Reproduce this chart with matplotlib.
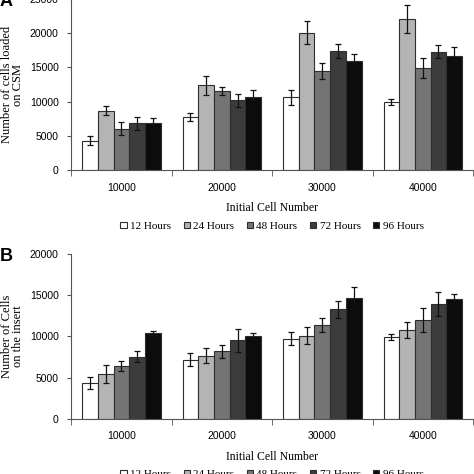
import numpy as np
import matplotlib.pyplot as plt

# data
cell_numbers = ["10000", "20000", "30000", "40000"]
hours = ["12 Hours", "24 Hours", "48 Hours", "72 Hours", "96 Hours"]
colors = ["#ffffff", "#b4b4b4", "#747474", "#3c3c3c", "#0c0c0c"]

# panel A: cells loaded on CSM, one list per time point
csm_12 = [4300, 7770, 10630, 9950]
csm_24 = [8690, 12430, 20100, 22040]
csm_48 = [6070, 11550, 14470, 14950]
csm_72 = [6840, 10240, 17430, 17330]
csm_96 = [6840, 10680, 15920, 16650]
csm_err_12 = [650, 600, 1100, 400]
csm_err_24 = [700, 1400, 1650, 2050]
csm_err_48 = [900, 550, 1150, 1500]
csm_err_72 = [1000, 950, 1000, 970]
csm_err_96 = [800, 1100, 1000, 1350]

# panel B: cells on the insert
ins_12 = [4330, 7170, 9720, 9920]
ins_24 = [5430, 7650, 10080, 10730]
ins_48 = [6400, 8180, 11380, 11980]
ins_72 = [7530, 9510, 13280, 13890]
ins_96 = [10400, 10080, 14700, 14570]
ins_err_12 = [700, 800, 750, 400]
ins_err_24 = [1050, 900, 1000, 950]
ins_err_48 = [550, 800, 900, 1400]
ins_err_72 = [650, 1400, 1050, 1450]
ins_err_96 = [250, 300, 1250, 600]

serif = "Liberation Serif"
sans = "Liberation Sans"


def draw_panel(ax, values, errors, ylabel, ymax, height_px):
    """ Grouped bar chart with error bars, Excel-like look

    :param ax: axes to draw on
    :param values: one list of bar heights per time point
    :param errors: one list of error values per time point
    :param ylabel: y axis label
    :param ymax: top of the y axis
    :param height_px: axes height in pixels, used to place the legend
    :return: none
    """
    x = np.arange(len(cell_numbers))
    width = 0.156
    for i in range(len(hours)):
        offset = (i - 2) * width
        ax.bar(x + offset, values[i], width, color=colors[i], edgecolor="#2e2e2e",
               linewidth=0.8, label=hours[i], zorder=2)
        ax.errorbar(x + offset, values[i], yerr=errors[i], fmt="none", ecolor="#111111",
                    elinewidth=0.9, capsize=2.4, capthick=0.9, zorder=3)
    ax.set_xlim(-0.5, len(cell_numbers) - 0.5)
    ax.set_ylim(0, ymax)
    ax.set_yticks(np.arange(0, ymax + 1, 5000))
    ax.set_xticks(x)
    ax.set_xticklabels(cell_numbers, fontfamily=sans, fontsize=7.5)
    ax.set_xticks(np.arange(-0.5, len(cell_numbers), 1.0), minor=True)
    ax.tick_params(axis="x", which="major", length=0, pad=9)
    ax.tick_params(axis="x", which="minor", length=4, direction="out", color="#555555")
    ax.tick_params(axis="y", length=3, direction="out", color="#555555", pad=6, labelsize=7.5)
    for lab in ax.get_yticklabels():
        lab.set_fontfamily(sans)
    ax.spines["top"].set_visible(False)
    ax.spines["right"].set_visible(False)
    ax.spines["left"].set_color("#555555")
    ax.spines["bottom"].set_color("#555555")
    ax.set_xlabel("Initial Cell Number", fontfamily=serif, fontsize=8.5, labelpad=7)
    ax.set_ylabel(ylabel, fontfamily=serif, fontsize=9, linespacing=0.95)
    ax.yaxis.set_label_coords(-0.117, 0.5)
    ax.legend(ncol=5, loc="upper center", bbox_to_anchor=(0.5, -47.0 / height_px), frameon=False,
              prop={"family": serif, "size": 8}, handlelength=0.55, handleheight=0.55,
              handletextpad=0.3, columnspacing=1.15, borderaxespad=0)


fig = plt.figure(figsize=(4.74, 4.74), dpi=100)
ax_a = fig.add_axes([0.150, 0.641, 0.848, 0.361])
ax_b = fig.add_axes([0.150, 0.1167, 0.848, 0.3475])

draw_panel(ax_a, [csm_12, csm_24, csm_48, csm_72, csm_96],
           [csm_err_12, csm_err_24, csm_err_48, csm_err_72, csm_err_96],
           "Number of cells loaded\non CSM", 25000, 0.361 * 474)
draw_panel(ax_b, [ins_12, ins_24, ins_48, ins_72, ins_96],
           [ins_err_12, ins_err_24, ins_err_48, ins_err_72, ins_err_96],
           "Number of Cells\non the insert", 20000, 0.3475 * 474)

fig.text(0.0, 0.997, "A", fontsize=13, fontweight="bold", fontfamily=sans, va="center")
fig.text(0.0, 0.458, "B", fontsize=13, fontweight="bold", fontfamily=sans, va="center")

fig.savefig("out.png", dpi=100)
